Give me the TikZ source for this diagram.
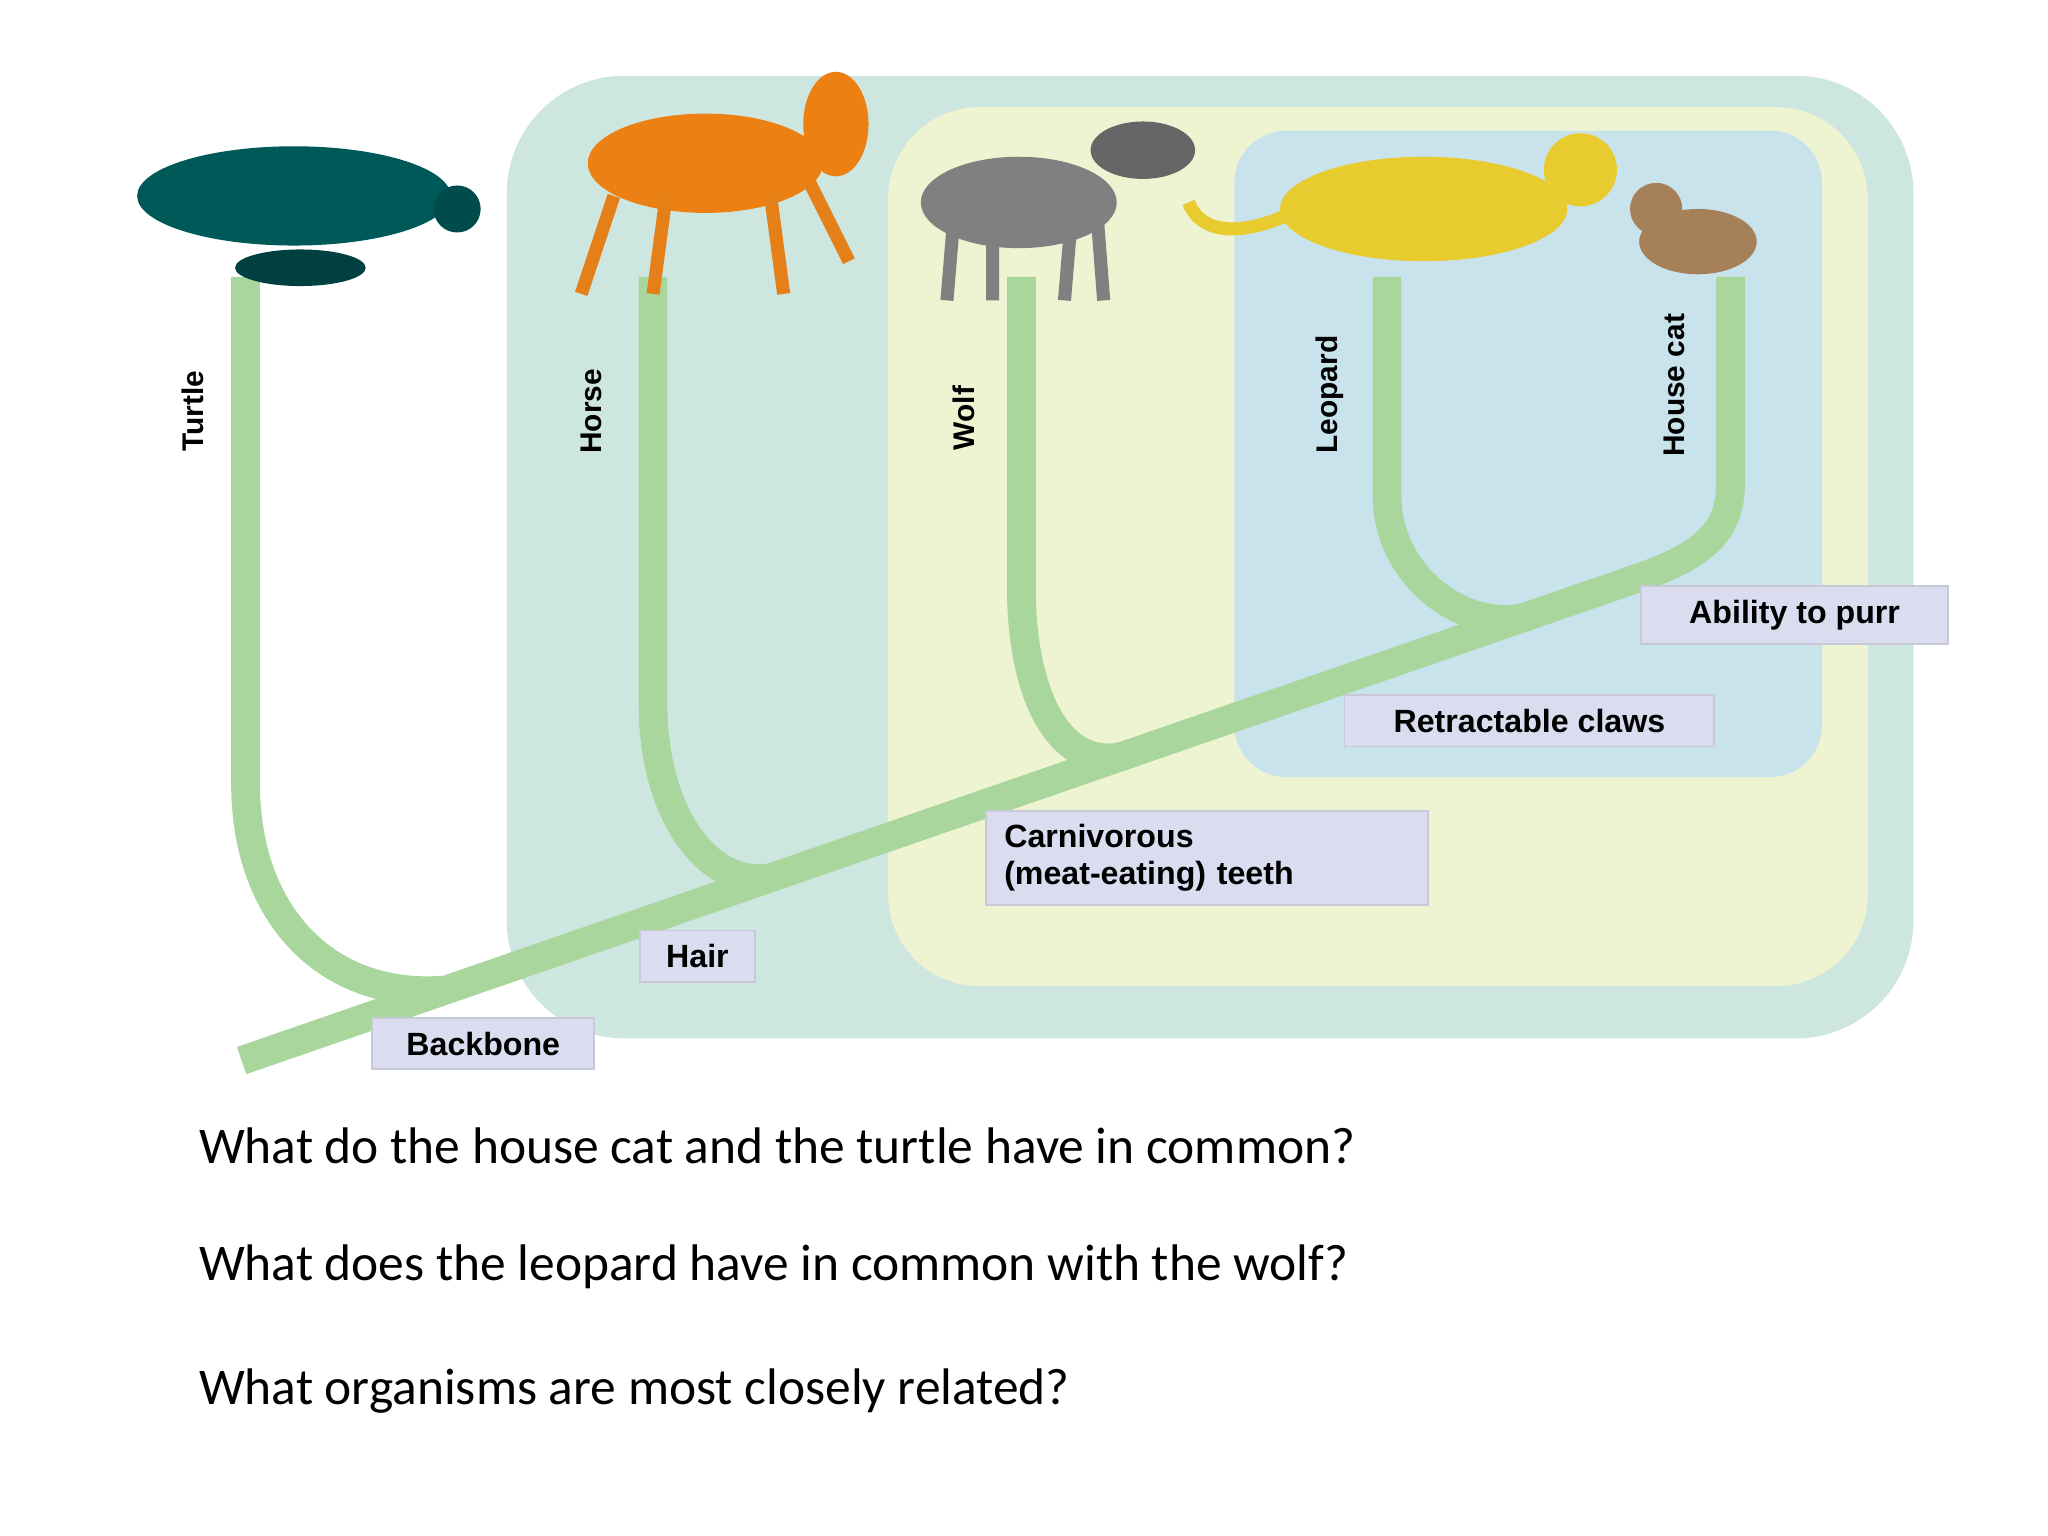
\documentclass[tikz,border=0pt]{standalone}
\usepackage{fontspec}
\setmainfont{Carlito}
\newfontfamily\lbl{Liberation Sans}
\definecolor{outerbox}{RGB}{206,230,224}
\definecolor{midbox}{RGB}{238,243,210}
\definecolor{innerbox}{RGB}{200,227,236}
\definecolor{branchc}{RGB}{168,214,156}
\definecolor{tagfill}{RGB}{218,220,240}
\definecolor{tagdraw}{RGB}{200,200,215}
\begin{document}
\begin{tikzpicture}[x=0.01cm,y=-0.01cm,
  branch/.style={line width=0.22cm,draw=branchc,line cap=butt},
  tag/.style={fill=tagfill,draw=tagdraw,inner sep=3pt,font=\lbl\bfseries\fontsize{7}{8}\selectfont,align=left},
  sp/.style={font=\lbl\bfseries\fontsize{6.5}{7}\selectfont,rotate=90},
  q/.style={anchor=west,font=\fontsize{11.2}{13}\selectfont}]
\useasboundingbox (0,0) rectangle (1568,1176);
\fill[white] (0,0) rectangle (1568,1176);
% boxes
\fill[outerbox,rounded corners=0.9cm] (388,58) rectangle (1465,795);
\fill[midbox,rounded corners=0.7cm] (680,82) rectangle (1430,755);
\fill[innerbox,rounded corners=0.4cm] (945,100) rectangle (1395,595);
% tree
\coordinate (root) at (185,812);
\coordinate (jT) at (340,758);
\coordinate (jH) at (590,672);
\coordinate (jW) at (860,579);
\coordinate (jC) at (1140,482);
\coordinate (jL) at (1170,472);
\draw[branch] (root) -- (jC) -- (1250,444) .. controls (1300,427) and (1325,410) .. (1325,370) -- (1325,212);
\draw[branch] (188,212) -- (188,600) .. controls (188,700) and (250,765) .. (jT);
\draw[branch] (500,212) -- (500,540) .. controls (500,620) and (540,680) .. (jH);
\draw[branch] (782,212) -- (782,450) .. controls (782,530) and (810,590) .. (jW);
\draw[branch] (1062,212) -- (1062,380) .. controls (1062,440) and (1120,485) .. (jL);
% species labels
\node[sp] (t) at (148,315) {Turtle};
\node[sp] (h) at (453,315) {Horse};
\node[sp] (w) at (738,320) {Wolf};
\node[sp] (l) at (1018,302) {Leopard};
\node[sp] (c) at (1282,295) {House cat};
% crude animals
\fill[teal!70!black] (225,150) ellipse (120 and 38);
\fill[teal!60!black] (350,160) circle (18);
\fill[teal!50!black] (230,205) ellipse (50 and 14);
\fill[orange!70!brown] (540,125) ellipse (90 and 38);
\fill[orange!70!brown] (640,95) ellipse (25 and 40);
\draw[orange!60!brown,line width=0.1cm] (470,150) -- (445,225) (510,150) -- (500,225) (590,150) -- (600,225) (620,140) -- (650,200);
\fill[gray] (780,155) ellipse (75 and 35);
\fill[gray!80!black] (875,115) ellipse (40 and 22);
\draw[gray,line width=0.1cm] (730,170) -- (725,230) (760,175) -- (760,230) (820,170) -- (815,230) (840,165) -- (845,230);
\fill[yellow!60!brown] (1090,160) ellipse (110 and 40);
\fill[yellow!60!brown] (1210,130) circle (28);
\draw[yellow!60!brown,line width=0.1cm] (985,165) .. controls (950,180) and (920,180) .. (910,155);
\fill[brown!60!gray] (1300,185) ellipse (45 and 25);
\fill[brown!60!gray] (1268,160) circle (20);
% trait tags
\node[tag,minimum width=1.7cm,minimum height=0.32cm] (bb) at (370,799) {Backbone};
\node[tag,minimum width=0.88cm,minimum height=0.3cm] (hair) at (534,732) {Hair};
\node[tag,minimum width=3.38cm,minimum height=0.57cm,text width=3.1cm] (carn) at (924,657) {Carnivorous\\(meat-eating) teeth};
\node[tag,minimum width=2.83cm,minimum height=0.33cm] (claw) at (1171,552) {Retractable claws};
\node[tag,minimum width=2.35cm,minimum height=0.35cm] (purr) at (1374,471) {Ability to purr};
% questions
\node[q] (q1) at (140,877) {What do the house cat and the turtle have in common?};
\node[q] (q2) at (140,970) {What does the leopard have in common with the wolf?};
\node[q] (q3) at (140,1065) {What organisms are most closely related?};
\end{tikzpicture}
\end{document}
